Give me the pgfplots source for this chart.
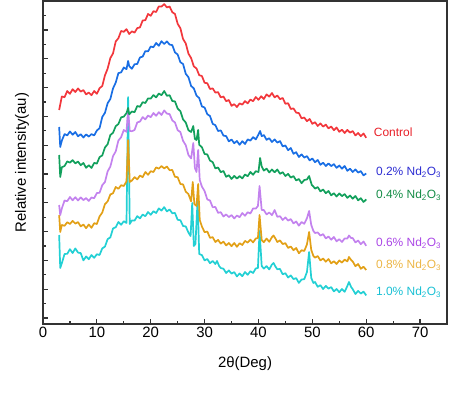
\documentclass[border=0pt]{standalone}
\usepackage{fontspec}
\setmainfont{Liberation Sans}
\usepackage{pgfplots}
\pgfplotsset{compat=1.18}
\definecolor{cred}{RGB}{242,55,60}
\definecolor{cblue}{RGB}{25,110,228}
\definecolor{cgreen}{RGB}{18,160,92}
\definecolor{cpurple}{RGB}{195,130,238}
\definecolor{corange}{RGB}{226,160,22}
\definecolor{ccyan}{RGB}{35,208,212}
\definecolor{lred}{RGB}{232,32,40}
\definecolor{lblue}{RGB}{45,45,210}
\definecolor{lgreen}{RGB}{20,140,70}
\definecolor{lpurple}{RGB}{170,70,230}
\definecolor{lorange}{RGB}{236,182,70}
\definecolor{lcyan}{RGB}{25,192,212}

\pgfplotstableread{
x y
3.0 214
3.5 227.5
4.0 226.8
4.5 233
5.0 230.2
5.5 234.8
6.0 232
6.5 235.6
7.0 232.4
7.5 233.9
8.0 229.6
8.5 231.5
9.0 228.8
9.5 233
10.0 230.2
10.5 235.8
11.0 238
11.5 248.6
12.0 255.4
12.5 265.9
13.0 270.6
13.5 282.5
14.0 285.8
14.5 293
15.0 292.2
15.5 294.8
16.0 290
16.5 292.6
17.0 291.4
17.5 295.9
18.0 296.6
18.5 303.5
19.0 303.8
19.5 310
20.0 308.2
20.5 312.8
21.0 312
21.5 317.6
22.0 317.4
22.5 319.9
23.0 316.6
23.5 317.5
24.0 311.8
24.5 310
25.0 300.2
25.5 295.8
26.0 285
26.5 280.6
27.0 270.4
27.5 265.9
28.0 257.6
28.5 255.5
29.0 248.8
29.5 248
30.0 241.2
30.5 240.8
31.0 235
31.5 235.6
32.0 231.4
32.5 231.9
33.0 226.6
33.5 227.5
34.0 222.8
34.5 224
35.0 218.2
35.5 219.8
36.0 217
36.5 220.6
37.0 219.4
37.5 222.9
38.0 220.6
38.5 224.5
39.0 222.8
39.5 227
40.0 224.2
40.5 227.8
41.0 225
41.5 229.6
42.0 227.4
42.5 231
43.0 226.6
43.5 228.5
44.0 224.8
44.5 226
45.0 220.2
45.5 220.8
46.0 215
46.5 215.6
47.0 211.4
47.5 210.9
48.0 205.6
48.5 206.5
49.0 202.8
49.5 205
50.0 200.2
50.5 201.8
51.0 198
51.5 200.6
52.0 197.4
52.5 199.4
53.0 195.6
53.5 197.5
54.0 193.8
54.5 196.5
55.0 192.2
55.5 194.3
56.0 191
56.5 194.1
57.0 191.4
57.5 192.9
58.0 188.6
58.5 191
59.0 187.8
59.5 190.5
60.0 186.2
}\tred

\pgfplotstableread{
x y
3.0 197
3.2 177
3.5 183.4
4.0 189.9
4.5 188.6
5.0 192.5
5.5 189.3
6.0 192
6.5 187.7
7.0 189.8
7.5 186.5
8.0 189.6
8.5 187.4
9.0 189.9
9.5 188.6
10.0 193.5
10.5 195.8
11.0 207
11.5 211.2
12.0 220.8
12.5 225
13.0 235.6
13.5 241.4
14.0 250.9
14.5 251.6
15.0 256.5
15.5 254.8
15.8 263
16.0 258
16.5 255.2
17.0 259.8
17.5 260
18.0 266.6
18.5 267.4
19.0 272.9
19.5 272.6
20.0 277.5
20.5 276.8
21.0 281
21.5 278.2
22.0 282.8
22.5 280
23.0 282.6
23.5 279.4
24.0 278.9
24.5 271.6
25.0 269.5
25.5 261.8
26.0 260
26.5 250.2
27.0 246.8
27.5 238
28.0 235.6
28.5 228.4
29.0 225.9
29.5 217.6
30.0 216.5
30.5 209.8
31.0 208
31.5 200.2
32.0 198.8
32.5 193
33.0 193.6
33.5 188.4
34.0 187.9
34.5 182.6
35.0 184.5
35.5 180.8
36.0 183
36.5 179.2
37.0 182.8
37.5 180
38.0 184.6
38.5 183.4
39.0 186.9
39.5 184.6
40.0 189.5
40.3 193
40.6 187.8
41.0 189
41.5 184.2
42.0 185.8
42.5 182
43.0 184.6
43.5 181.4
44.0 182.9
44.5 177.6
45.0 178.5
45.5 173.8
46.0 176
46.5 170.2
47.0 171.8
47.5 167
48.0 169.6
48.5 166.4
49.0 167.9
49.5 163.6
50.0 165.5
50.5 161.8
51.0 164
51.5 159.2
52.0 161.3
52.5 158
53.0 160.6
53.5 157.9
54.0 159.9
54.5 156.1
55.0 158.5
55.5 155.3
56.0 158
56.5 153.2
57.0 155.3
57.5 152
58.0 154.6
58.5 151.4
59.0 152.9
59.5 148.6
60.0 150.5
}\tblue

\pgfplotstableread{
x y
3.0 169
3.2 147
3.5 156.8
4.0 158
4.5 162.6
5.0 161.4
5.5 163.9
6.0 160.6
6.5 162.5
7.0 158.8
7.5 161
8.0 156.2
8.5 158.8
9.0 156
9.5 161.1
10.0 160.4
10.5 166.9
11.0 168.6
11.5 176.5
12.0 179.8
12.5 189
13.0 191.2
13.5 197.8
14.0 200
14.5 206.6
15.0 207.4
15.5 210.9
15.8 216
16.0 209.6
16.5 212.5
17.0 211.8
17.5 218
18.0 217.2
18.5 221.8
19.0 221
19.5 225.6
20.0 225.4
20.5 228.9
21.0 226.6
21.5 230.5
22.0 228.8
22.5 233
23.0 228.2
23.5 228.8
24.0 223
24.5 222.6
25.0 215.4
25.5 212.9
26.0 204.6
26.5 201.5
27.0 193.8
27.5 192
27.9 198
28.2 185
28.5 184
28.8 194
29.0 179.2
29.5 176.8
30.0 170
30.5 169.6
31.0 163.4
31.5 161.9
32.0 155.6
32.5 156.5
33.0 151.8
33.5 153
34.0 147.2
34.5 148.8
35.0 145
35.5 148.1
36.0 145.4
36.5 147.9
37.0 145.6
37.5 149.5
38.0 147.8
38.5 152
39.0 149.2
39.5 152.8
40.0 152
40.3 166
40.6 157.6
41.0 153.4
41.5 155.4
42.0 151.6
42.5 154.5
43.0 151.8
43.5 154.5
44.0 150.2
44.5 151.8
45.0 148
45.5 150.1
46.0 146.4
46.5 147.9
47.0 143.6
47.5 145
48.0 140.8
48.5 144
49.0 144.5
49.4 148
49.9 139
50.2 137.5
50.5 135.4
51.0 136.9
51.5 132.6
52.0 134.5
52.5 130.8
53.0 133
53.5 128.7
54.0 130.8
54.5 127.5
55.0 130.6
55.5 127.9
56.0 129.9
56.5 126.1
57.0 128.5
57.5 125.3
58.0 128
58.5 123.7
59.0 125.8
59.5 122
60.0 124.6
}\tgreen

\pgfplotstableread{
x y
3.0 119
3.2 109
3.5 115.6
4.0 123.5
4.5 122.8
5.0 127
5.5 123.7
6.0 126.8
6.5 123.5
7.0 126.6
7.5 123.9
8.0 125.9
8.5 123.1
9.0 126.5
9.5 125.8
10.0 131
10.5 131.2
11.0 138.8
11.5 142
12.0 152.6
12.5 157.4
13.0 167.9
13.5 172.6
14.0 183.5
14.5 186.8
15.0 194
15.5 192.2
15.8 214
16.1 193
16.5 192.8
17.0 194
17.5 201.6
18.0 202.4
18.5 206.9
19.0 204.6
19.5 208.5
20.0 206.8
20.5 211
21.0 208.2
21.5 211.8
22.0 209
22.5 213.6
23.0 210.4
23.5 209.9
24.0 203.6
24.5 201.5
25.0 193.8
25.5 192
26.0 183.2
26.5 178.8
27.0 169
27.5 165.6
27.9 181
28.2 156
28.5 152
28.8 174
29.1 144
29.5 137.4
30.0 132.9
30.5 124.6
31.0 123.5
31.5 116.8
32.0 117
32.5 111.2
33.0 111.8
33.5 107.5
34.0 109.6
34.5 106.9
35.0 108.9
35.5 105.6
36.0 108.5
36.5 106.8
37.0 111
37.5 108.2
38.0 111.8
38.5 110.5
39.0 115.6
39.5 115.4
39.9 118
40.2 138
40.6 114
41.0 113.9
41.5 109.6
42.0 111.5
42.5 108.8
43.0 114
43.5 107.2
44.0 107.8
44.5 104
45.0 106.6
45.5 103.4
46.0 104.9
46.5 100.6
47.0 102.5
47.5 98.3
48.0 102
48.5 100.2
49.0 105.8
49.4 113
49.8 99
50.2 93
50.5 91
51.0 91.6
51.5 88.4
52.0 89.9
52.5 85.6
53.0 87.5
53.5 84.3
54.0 87
54.5 82.7
55.0 84.8
55.5 82
56.0 85.6
56.5 85.4
56.8 88.5
57.2 86
57.5 85.9
58.0 81.6
58.5 83.5
59.0 79.8
59.5 82.5
60.0 78.2
}\tpurple

\pgfplotstableread{
x y
3.0 109
3.2 92
3.5 99
4.0 98.2
4.5 101.8
5.0 100
5.5 103.1
6.0 100.4
6.5 101.9
7.0 97.6
7.5 99.5
8.0 95.8
8.5 99.5
9.0 96.2
9.5 100.8
10.0 100
10.5 107.6
11.0 111.4
11.5 119.9
12.0 122.6
12.5 129.5
13.0 130.8
13.5 137
14.0 135.2
14.5 138.8
15.0 138
15.5 142.6
15.8 184
16.1 142
16.5 143.4
17.0 146.9
17.5 144.6
18.0 148.5
18.5 146.8
19.0 152
19.5 149.2
20.0 152.8
20.5 152
21.0 156.6
21.5 155.4
22.0 157.9
22.5 155.6
23.0 157.5
23.5 153.8
24.0 154
24.5 147.2
25.0 146.8
25.5 140
26.0 139.6
26.5 132.4
27.0 129.9
27.5 122.6
27.8 142
28.1 120
28.5 118
28.8 140
29.1 104
29.5 97.5
30.0 91.8
30.5 92.5
31.0 86.2
31.5 86.8
32.0 82
32.5 84.1
33.0 80.4
33.5 82.4
34.0 78.6
34.5 81
35.0 77.8
35.5 81
36.0 77.2
36.5 80.8
37.0 79
37.5 83.1
38.0 81.4
38.5 84.4
39.0 81.6
39.5 85.5
39.9 86
40.2 109
40.6 84
41.0 81.8
41.5 85.5
42.0 82.2
42.5 86.8
42.8 88.5
43.2 85
43.5 82
44.0 83.6
44.5 79.9
45.0 80.9
45.5 76.1
46.0 77.5
46.5 73.8
47.0 76
47.5 70.7
48.0 73.8
48.5 73
49.0 79.6
49.4 92
49.8 74
50.2 68
50.5 66.4
51.0 67.9
51.5 63.6
52.0 65.5
52.5 62.3
53.0 65
53.5 60.7
54.0 62.8
54.5 60
55.0 63.6
55.5 61.4
56.0 64.4
56.5 62.6
56.8 67
57.2 64
57.5 62.5
58.0 57.8
58.5 60
59.0 55.2
59.5 57.3
60.0 54
}\torange

\pgfplotstableread{
x y
3.0 89
3.2 56
3.5 60.8
4.0 70
4.5 70.2
5.0 74.8
5.5 71
6.0 75.6
6.5 71.4
7.0 70.9
7.5 63.6
8.0 67.5
8.5 64.8
9.0 69
9.5 66.2
10.0 69.8
10.5 69
11.0 75.6
11.5 77.4
12.0 84.9
12.5 86.6
13.0 95.5
13.5 96.8
14.0 102
14.5 99.2
15.0 102.8
15.5 101
15.8 227
16.1 100
16.5 103.6
17.0 103.4
17.5 107.9
18.0 105.6
18.5 109.5
19.0 107.8
19.5 112
20.0 109.2
20.5 112.8
21.0 111
21.5 115.6
22.0 113.4
22.5 116.9
23.0 112.6
23.5 114.5
24.0 110.8
24.5 111
25.0 104.2
25.5 103.8
26.0 98
26.5 97.6
27.0 91.4
27.4 88
27.7 121
28.0 78
28.3 80
28.7 124
29.0 70
29.5 68.9
30.0 63.6
30.5 65
31.0 60.8
31.5 63
32.0 60
32.3 63
32.7 58
33.0 56
33.5 55.3
34.0 51
34.5 53.6
35.0 50.4
35.5 51.9
36.0 47.6
36.5 50.5
37.0 47.8
37.5 52
38.0 49.2
38.5 52.8
39.0 51
39.5 55.6
39.9 56
40.2 93
40.6 58
41.0 55.4
41.5 57.9
42.0 54.6
42.5 59.5
42.8 61
43.2 57
43.5 54.8
44.0 55
44.5 49.7
45.0 50.8
45.5 46.5
46.0 48.6
46.5 44.9
47.0 45.9
47.5 41.1
48.0 44.5
48.5 44.8
49.0 52
49.4 72
49.8 46
50.2 41
50.5 42
51.0 37.2
51.5 38.8
52.0 35
52.5 38.1
53.0 35.4
53.5 36.9
54.0 32.6
54.5 35
55.0 31.8
55.5 35
56.0 32.2
56.5 38
56.8 42
57.2 37
57.5 34.8
58.0 30
58.5 33.1
59.0 30.4
59.5 32.4
60.0 28.6
}\tcyan

\begin{document}
\begin{tikzpicture}
\begin{axis}[
  scale only axis,
  width=404bp, height=323bp,
  xmin=0, xmax=75, ymin=0, ymax=323,
  xtick={0,10,...,70}, minor x tick num=1,
  ytick={6,34.8,...,323}, minor y tick num=1, yticklabels={},
  tick align=inside, xtick pos=bottom, ytick pos=left,
  major tick length=5bp, minor tick length=3bp,
  axis line style={line width=1.6bp, black!80},
  every tick/.style={line width=1.2bp, black!80},
  tick label style={font=\fontsize{15}{17}\selectfont},
  /pgf/number format/assume math mode=true,
  xlabel={2θ(Deg)}, ylabel={Relative intensity(au)},
  label style={font=\fontsize{15}{17}\selectfont},
  xlabel style={at={(axis description cs:0.5,-0.124)},anchor=center},
  ylabel style={at={(axis description cs:-0.052,0.5)},anchor=center},
  every axis plot/.append style={line width=1.7bp, line join=round, mark=none},
]
\addplot[ccyan] table[x=x,y=y] {\tcyan};
\addplot[corange] table[x=x,y=y] {\torange};
\addplot[cpurple] table[x=x,y=y] {\tpurple};
\addplot[cgreen] table[x=x,y=y] {\tgreen};
\addplot[cblue] table[x=x,y=y] {\tblue};
\addplot[cred] table[x=x,y=y] {\tred};
\begin{scope}[every node/.style={anchor=west, font=\fontsize{12}{14}\selectfont, inner sep=0pt}]
\node[text=lred] at (axis cs:61.4,192) {Control};
\node[text=lblue] at (axis cs:61.8,152) {0.2\% Nd\textsubscript{2}O\textsubscript{3}};
\node[text=lgreen] at (axis cs:61.8,129) {0.4\% Nd\textsubscript{2}O\textsubscript{3}};
\node[text=lpurple] at (axis cs:61.8,81) {0.6\% Nd\textsubscript{2}O\textsubscript{3}};
\node[text=lorange] at (axis cs:61.8,59) {0.8\% Nd\textsubscript{2}O\textsubscript{3}};
\node[text=lcyan] at (axis cs:61.8,32) {1.0\% Nd\textsubscript{2}O\textsubscript{3}};
\end{scope}
\end{axis}
\pgfresetboundingbox
\path ([shift={(-43bp,-73bp)}]current axis.south west) rectangle ([shift={(27bp,1bp)}]current axis.north east);
\end{tikzpicture}
\end{document}
